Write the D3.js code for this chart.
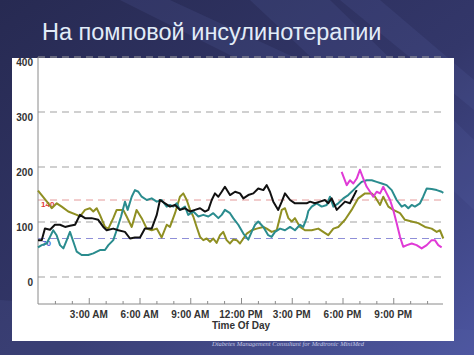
<!DOCTYPE html>
<html>
<head>
<meta charset="utf-8">
<script src="https://cdn.jsdelivr.net/npm/d3@7"></script>
<style>
  body { margin: 0; background: #2b2e58; }
  .container { width: 474px; height: 355px; overflow: hidden; }
  .tick-label { font-family: Arial, "Liberation Sans", sans-serif; font-weight: bold; font-size: 10px; fill: #333; }
  .linepath { fill: none; stroke-width: 2; stroke-linejoin: round; }
</style>
</head>
<body>
<div class="container"></div>
<script>
const WIDTH = 474;
const HEIGHT = 355;

const PLOT_LEFT = 38;
const PLOT_RIGHT = 444;
const PLOT_TOP = 57;
const PLOT_BOTTOM = 277;
const AXIS_Y = 304;

// data: [hour of day, mg/dL]
const yTicks = [0, 100, 200, 300, 400];
const xTickHours = [3, 6, 9, 12, 15, 18, 21];
const xTickLabels = ["3:00 AM", "6:00 AM", "9:00 AM", "12:00 PM", "3:00 PM", "6:00 PM", "9:00 PM"];
const targetHigh = 140;
const targetLow = 70;

const olive = [[0,157],[0.61,134],[0.81,125],[1.11,134],[1.40,128],[1.79,119],[2.29,113],[2.48,110],[2.78,122],[3.07,125],
  [3.27,119],[3.47,125],[3.66,113],[3.96,91],[4.16,88],[4.45,107],[4.65,122],[5.04,122],[5.24,110],[5.54,91],[5.83,122],
  [6.13,107],[6.43,88],[6.72,85],[7.02,88],[7.31,72],[7.61,95],[7.80,91],[8.10,116],[8.39,146],[8.59,152],[8.79,140],
  [8.99,122],[9.18,110],[9.38,91],[9.58,73],[9.77,67],[9.97,70],[10.17,64],[10.36,70],[10.56,62],[10.76,76],[10.95,82],
  [11.15,67],[11.35,61],[11.54,68],[11.75,67],[11.94,61],[12.14,70],[12.34,79],[12.63,85],[12.93,88],[13.32,91],[13.52,88],
  [13.81,82],[14.11,85],[14.41,122],[14.60,125],[14.80,107],[15.00,101],[15.19,107],[15.49,91],[15.78,85],[16.18,85],
  [16.57,88],[16.86,82],[17.16,76],[17.46,88],[17.75,91],[18.15,104],[18.54,122],[18.93,143],[19.33,152],[19.73,152],
  [19.92,146],[20.22,131],[20.41,146],[20.71,128],[21.00,122],[21.40,116],[21.69,104],[22.09,101],[22.48,98],[22.88,91],
  [23.27,88],[23.57,82],[23.76,85],[23.96,70]];

const black = [[0,67],[0.22,67],[0.41,88],[0.71,86],[1.0,95],[1.30,95],[1.60,91],[1.89,93],[2.19,95],[2.48,113],[2.78,107],
  [3.17,107],[3.56,104],[3.86,91],[4.06,85],[4.45,88],[4.75,85],[5.14,82],[5.44,70],[5.73,72],[6.03,72],[6.32,88],[6.72,88],
  [7.02,113],[7.21,140],[7.51,134],[7.80,128],[8.10,131],[8.39,122],[8.69,125],[8.99,119],[9.28,122],[9.58,125],[9.87,119],
  [10.07,122],[10.27,140],[10.46,152],[10.66,146],[10.86,155],[11.05,164],[11.35,149],[11.65,155],[11.94,152],[12.14,143],
  [12.43,149],[12.73,152],[13.02,161],[13.32,158],[13.52,167],[13.71,155],[13.91,137],[14.20,122],[14.41,137],[14.60,152],
  [14.90,140],[15.19,134],[15.59,134],[15.88,134],[16.08,137],[16.37,134],[16.67,137],[16.96,140],[17.16,134],[17.36,143],
  [17.66,122],[17.85,128],[18.15,137],[18.44,134],[18.64,146],[18.84,158]];

const teal = [[0,54],[0.22,58],[0.51,61],[0.71,73],[0.90,85],[1.10,76],[1.30,58],[1.50,52],[1.70,67],[1.89,82],[2.09,64],
  [2.29,46],[2.58,40],[2.97,40],[3.27,43],[3.66,49],[3.96,49],[4.16,58],[4.45,67],[4.65,85],[4.91,110],[5.14,137],[5.30,122],
  [5.54,146],[5.73,158],[5.93,155],[6.13,146],[6.43,140],[6.72,143],[7.02,137],[7.31,140],[7.61,128],[7.80,131],[8.0,128],
  [8.20,134],[8.39,122],[8.69,128],[8.88,113],[9.18,119],[9.48,110],[9.77,113],[10.07,110],[10.36,116],[10.66,107],
  [10.86,113],[11.05,122],[11.35,116],[11.54,107],[11.84,95],[12.14,79],[12.43,68],[12.63,82],[12.83,95],[13.02,101],
  [13.32,91],[13.61,76],[13.81,73],[14.01,82],[14.31,88],[14.60,85],[14.90,91],[15.19,85],[15.49,95],[15.68,91],[15.88,107],
  [15.98,120],[16.18,128],[16.47,134],[16.77,128],[17.07,131],[17.26,146],[17.46,128],[17.75,134],[18.05,143],[18.34,149],
  [18.64,158],[18.93,167],[19.13,173],[19.43,176],[19.73,176],[20.02,173],[20.32,170],[20.61,167],[20.91,158],[21.20,140],
  [21.50,128],[21.69,131],[21.89,125],[22.09,131],[22.28,128],[22.58,134],[22.77,146],[22.98,161],[23.27,160],[23.57,158],
  [23.86,155],[23.96,153]];

const magenta = [[17.95,191],[18.25,167],[18.44,176],[18.64,170],[18.84,179],[19.03,195],[19.23,179],[19.43,164],[19.63,155],
  [19.82,146],[20.02,155],[20.22,152],[20.41,164],[20.61,152],[20.81,140],[21.0,122],[21.20,98],[21.40,73],[21.59,55],
  [21.81,58],[22.09,61],[22.38,58],[22.68,52],[22.98,58],[23.27,67],[23.46,67],[23.66,58],[23.86,54]];

const seriesList = [
  {data: olive, color: "#8f8f22"},
  {data: teal, color: "#2a8c8e"},
  {data: black, color: "#111111"},
  {data: magenta, color: "#e03ad6"}
];

var xScale = d3.scaleLinear().domain([0, 24]).range([PLOT_LEFT, PLOT_RIGHT]);
var yScale = d3.scaleLinear().domain([0, 400]).range([PLOT_BOTTOM, PLOT_TOP]);

var drawBackground = function(svg){
    var defs = svg.append('defs');
    var grad = defs.append('linearGradient').attr('id', 'bg')
        .attr('x1', 0).attr('y1', 0).attr('x2', 1).attr('y2', 1);
    grad.append('stop').attr('offset', '0%').attr('stop-color', '#272a52');
    grad.append('stop').attr('offset', '55%').attr('stop-color', '#33376a');
    grad.append('stop').attr('offset', '100%').attr('stop-color', '#4c55a0');
    svg.append('rect').attr('width', WIDTH).attr('height', HEIGHT).attr('fill', 'url(#bg)');

    // diagonal streaks
    var streaks = [
        [[250,0],[330,0],[474,140],[474,210]],
        [[340,0],[380,0],[474,80],[474,110]],
        [[120,0],[170,0],[300,60],[240,60]],
        [[0,300],[474,330],[474,355],[0,355]]
    ];
    svg.append('g').selectAll('path').data(streaks).enter().append('path')
        .attr('d', function(d){ return 'M' + d.join('L') + 'Z'; })
        .attr('fill', '#5a62a8').attr('opacity', 0.18);

    svg.append('text')
        .attr('x', 42).attr('y', 39.5)
        .attr('font-family', 'Arial, "Liberation Sans", sans-serif')
        .attr('font-size', 23.5)
        .attr('fill', '#e2ecf8')
        .text('На помповой инсулинотерапии');

    svg.append('rect').attr('x', 12).attr('y', 58).attr('width', 442).attr('height', 283).attr('fill', '#ffffff');

    svg.append('text')
        .attr('x', 288).attr('y', 345.5)
        .attr('text-anchor', 'middle')
        .attr('font-family', '"Liberation Serif", "DejaVu Serif", serif')
        .attr('font-style', 'italic')
        .attr('font-size', 6.5)
        .attr('fill', '#c4c8e6')
        .text('Diabetes Management Consultant for Medtronic MiniMed');
};

var drawGrid = function(svg){
    svg.append('g').selectAll('line').data(yTicks).enter().append('line')
        .attr('x1', PLOT_LEFT).attr('x2', PLOT_RIGHT)
        .attr('y1', function(d){ return yScale(d); })
        .attr('y2', function(d){ return yScale(d); })
        .attr('stroke', '#a2a2a2').attr('stroke-width', 1.2).attr('stroke-dasharray', '7,5');

    svg.append('g').selectAll('text').data(yTicks).enter().append('text')
        .classed('tick-label', true)
        .attr('x', 33).attr('y', function(d){ return yScale(d) + 9; })
        .attr('text-anchor', 'end')
        .text(function(d){ return d; });

    var targets = [{v: targetHigh, line: '#e49a9a', text: '#e03a3a', dx: 3}, {v: targetLow, line: '#8f8fd8', text: '#4a5ad0', dx: 4}];
    svg.append('g').selectAll('line').data(targets).enter().append('line')
        .attr('x1', PLOT_LEFT).attr('x2', PLOT_RIGHT)
        .attr('y1', function(d){ return yScale(d.v); })
        .attr('y2', function(d){ return yScale(d.v); })
        .attr('stroke', function(d){ return d.line; }).attr('stroke-width', 1).attr('stroke-dasharray', '7,5');
    svg.append('g').selectAll('text').data(targets).enter().append('text')
        .attr('x', function(d){ return PLOT_LEFT + d.dx; })
        .attr('y', function(d){ return yScale(d.v) + 7; })
        .attr('font-family', 'Arial, sans-serif').attr('font-weight', 'bold').attr('font-size', 8)
        .attr('fill', function(d){ return d.text; })
        .text(function(d){ return d.v; });
};

var drawAxes = function(svg){
    svg.append('line').attr('x1', PLOT_LEFT).attr('x2', PLOT_LEFT).attr('y1', PLOT_TOP).attr('y2', AXIS_Y)
        .attr('stroke', '#8a8a8a').attr('stroke-width', 1);

    var xAxis = d3.axisTop(xScale).tickValues(d3.range(1, 24)).tickSize(3).tickFormat('');
    var g = svg.append('g').attr('transform', 'translate(0,' + AXIS_Y + ')').call(xAxis);
    g.select('.domain').attr('stroke', '#8a8a8a').attr('d', 'M' + PLOT_LEFT + ',0H' + (PLOT_RIGHT - 1));
    g.selectAll('.tick line').attr('stroke', '#8a8a8a')
        .attr('y2', function(d){ return d % 3 === 0 ? -6 : -3; });

    svg.append('g').selectAll('text').data(xTickHours).enter().append('text')
        .classed('tick-label', true)
        .attr('x', function(d){ return xScale(d); })
        .attr('y', 317.5)
        .attr('text-anchor', 'middle')
        .text(function(d, i){ return xTickLabels[i]; });

    svg.append('text').classed('tick-label', true)
        .attr('x', xScale(12)).attr('y', 328.5)
        .attr('text-anchor', 'middle')
        .text('Time Of Day');
};

var drawSeries = function(svg){
    var line = d3.line()
        .x(function(d){ return xScale(d[0]); })
        .y(function(d){ return yScale(d[1]); })
        .curve(d3.curveLinear);
    svg.append('g').selectAll('path').data(seriesList).enter().append('path')
        .classed('linepath', true)
        .attr('stroke', function(d){ return d.color; })
        .attr('d', function(d){ return line(d.data); });
};

var loadChart = function(){
    var svg = d3.select('.container').append('svg')
        .attr('width', WIDTH).attr('height', HEIGHT);
    drawBackground(svg);
    drawGrid(svg);
    drawAxes(svg);
    drawSeries(svg);
};

window.onload = loadChart;
</script>
</body>
</html>
